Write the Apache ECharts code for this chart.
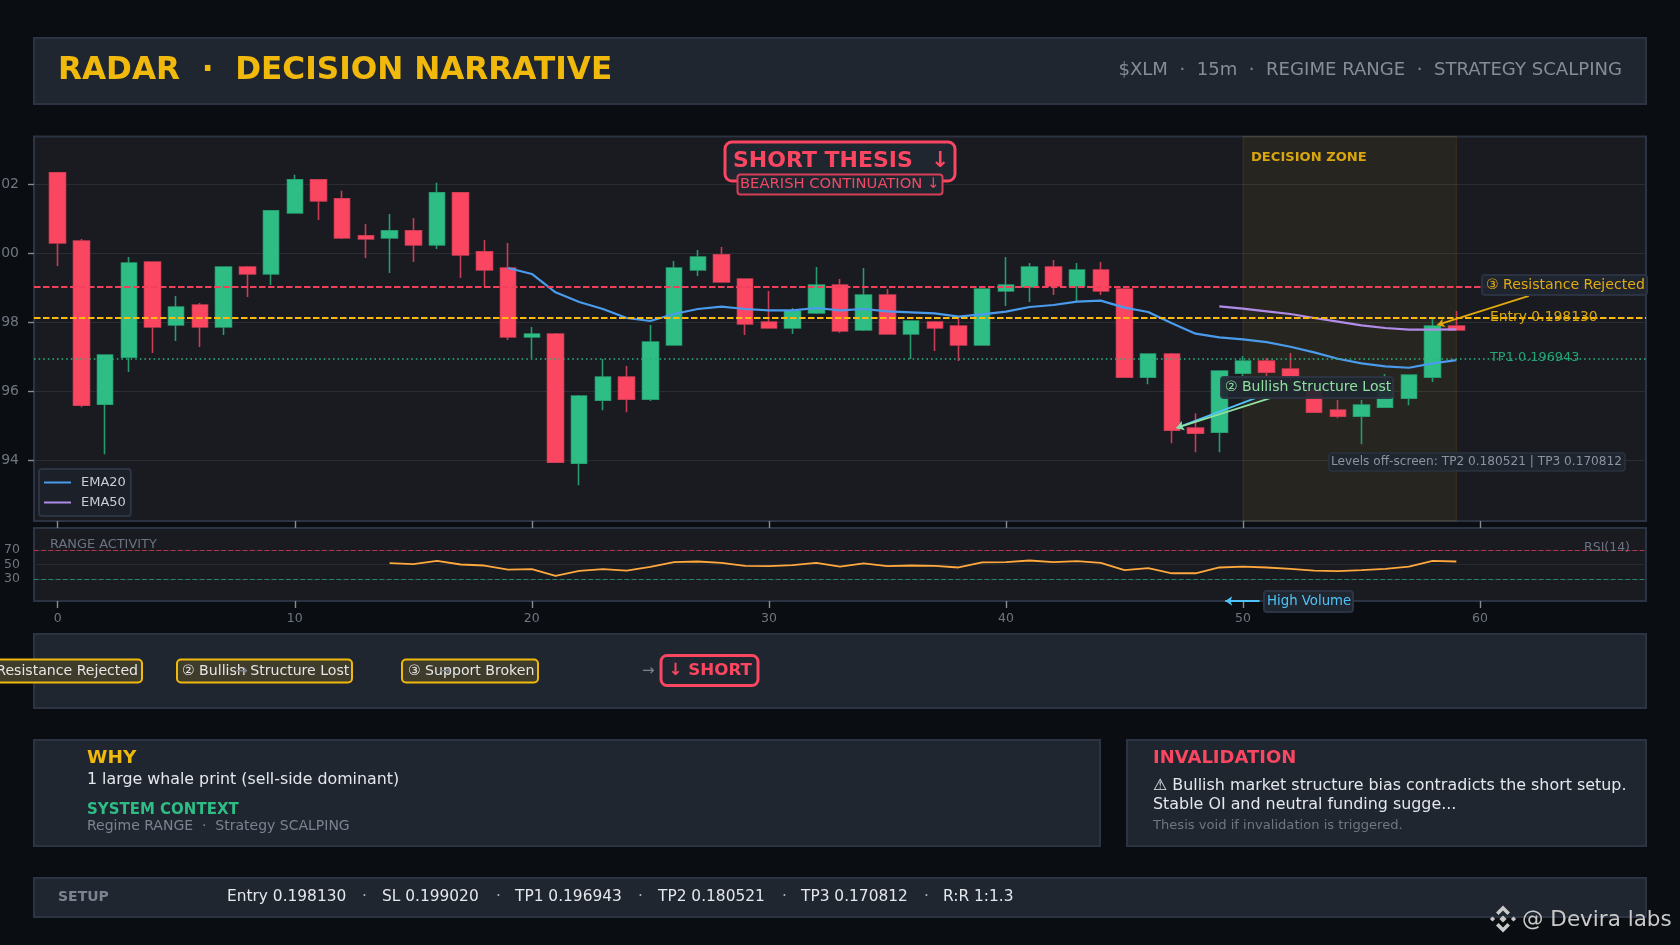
<!DOCTYPE html>
<html><head><meta charset="utf-8">
<style>html,body{margin:0;padding:0;background:#0a0d11;overflow:hidden}#c{width:1680px;height:945px}</style>
<script src="https://cdn.jsdelivr.net/npm/echarts@6/dist/echarts.min.js"></script>
</head><body><div id="c"></div>
<script>
const opens=[.202329,.200357,.195633,.196995,.199749,.197923,.198502,.197865,.199604,.199401,.201169,.202126,.201575,.200502,.200444,.200647,.200242,.201749,.200039,.199575,.197575,.197662,.193923,.195749,.196415,.195778,.197343,.199517,.199952,.199256,.19801,.197836,.198271,.199082,.197778,.198792,.197662,.19801,.197894,.197343,.198908,.199024,.199604,.199053,.199517,.198966,.196415,.197082,.194937,.194821,.196531,.196879,.196647,.196039,.195459,.195285,.195546,.195807,.196415,.197894];
const closes=[.2003,.195604,.197053,.19972,.197865,.198444,.197865,.199604,.199401,.201227,.202126,.201517,.200444,.200415,.200647,.200242,.201749,.199952,.199517,.197575,.197662,.193952,.195865,.196415,.195778,.19743,.199575,.199894,.199169,.197952,.197836,.198328,.199082,.197749,.198792,.197662,.198039,.197836,.197343,.198966,.199082,.199604,.199053,.199517,.198908,.196415,.197082,.194879,.194792,.196589,.196879,.19656,.196415,.195401,.195285,.195604,.196135,.196473,.197894,.197778];
const lows=[.199633,.195546,.194183,.19656,.197111,.197459,.197285,.197633,.198734,.199082,.201169,.200966,.200415,.199865,.19943,.199749,.200126,.199285,.199024,.197488,.196966,.193952,.193285,.195459,.195401,.19572,.197343,.199343,.199169,.197633,.197836,.197662,.198242,.197691,.197749,.197662,.196937,.197169,.196879,.197343,.198473,.198589,.198792,.198618,.198792,.196415,.196212,.194502,.194241,.194241,.196444,.196444,.196329,.195401,.195227,.194473,.195546,.195604,.19627,.197778];
const highs=[.202329,.200415,.197053,.199894,.199749,.198763,.19856,.199604,.199633,.201227,.202271,.202126,.201807,.20085,.20114,.201024,.202039,.201749,.200386,.2003,.197865,.197691,.195894,.196937,.196734,.197923,.199778,.200097,.200184,.199256,.198908,.198415,.199604,.199256,.199575,.198966,.198039,.198039,.198126,.198966,.199894,.19972,.199807,.19972,.199749,.198966,.197082,.197111,.195372,.196589,.197024,.196966,.197111,.196135,.195749,.195749,.196502,.196473,.198097,.198328];
const ema20Start=19;
const ema20=[.199575,.199401,.19887,.198589,.198387,.198126,.198039,.198242,.198387,.198454,.198387,.198348,.198348,.198415,.198348,.198387,.198319,.19829,.198261,.198164,.198232,.198309,.198444,.198502,.198599,.198628,.198425,.1983,.197971,.197672,.197565,.197507,.19743,.197295,.19713,.196947,.196812,.196725,.196686,.196812,.196908];
const ema50Start=49;
const ema50=[.198464,.198396,.198319,.198242,.198126,.19802,.197913,.197836,.197787,.197787,.197797];
const rsiStart=14;
const rsi=[51.8,50.5,55.1,50,48.6,43.1,43.6,34.4,41.3,43.6,41.7,46.8,53.2,54.1,52.3,48.2,47.7,49.1,52.3,47.2,51.4,47.7,48.6,48.2,45.9,52.8,53.2,55.5,53.2,54.6,52.3,42.2,44.9,38,38,45.9,47.2,45.9,44,41.7,40.8,42.2,44,47.2,55.1,54.1];
const xTicks=[0,10,20,30,40,50,60];
const yTicks=[.194,.196,.198,.2,.202];
const rsiTicks=[30,50,70];
const SL=.19902,ENTRY=.19813,TP1=.196943;
const zone=[50,59];

const F='"DejaVu Sans"';
const RED='#fb4661',GREEN='#2ebd85',YEL='#f0b90b',PANEL='#1f2630',EDGE='#2c3342',GREY='#7b8390';
const candle=opens.map((o,i)=>[i,o,closes[i],lows[i],highs[i]]);
const bodies=opens.map((o,i)=>[i,o,closes[i],Math.min(o,closes[i]),Math.max(o,closes[i])]);
const seq=(a,s)=>a.map((v,i)=>[i+s,v]);

const g=[];
function box(x,y,w,h,fill,stroke,lw,r,z,op){g.push({type:'rect',shape:{x,y,width:w,height:h,r:r||0},style:{fill,stroke,lineWidth:lw,opacity:op==null?1:op},z:z||0,silent:true});}
function txt(x,y,t,size,color,o){o=o||{};g.push({type:'text',x,y:y+1,style:{text:t,fontFamily:F,fontSize:size,fontWeight:o.bold?'bold':'normal',fill:color,align:o.align||'left',verticalAlign:'middle',opacity:o.op==null?1:o.op},z:o.z||50,silent:true});}
function poly(pts,fill,z){g.push({type:'polygon',shape:{points:pts},style:{fill},z,silent:true});}

// panels
box(34,38,1612,66,PANEL,EDGE,2);
box(34,634,1612,74,PANEL,EDGE,2);
box(34,740,1066,106,PANEL,EDGE,2);
box(1127,740,519,106,PANEL,EDGE,2);
box(34,878,1612,39,PANEL,EDGE,2);
// header
txt(58,70,'RADAR  ·  DECISION NARRATIVE',31.15,YEL,{bold:true});
txt(1622,69,'$XLM  ·  15m  ·  REGIME RANGE  ·  STRATEGY SCALPING',18.08,'#868d97',{align:'right'});
// thesis
box(725,142,230,39,PANEL,RED,3,7,60);
txt(733,160,'SHORT THESIS',22,RED,{bold:true,z:61});
txt(931,160,'↓',22,RED,{bold:true,z:61});
box(737.5,174.5,205,20,PANEL,'#d83f57',2,3,62);
txt(740,183,'BEARISH CONTINUATION ↓',14.75,'#f04a63',{z:63});
// zone / annotations
txt(1251,157,'DECISION ZONE',13.1,'#d9a610',{bold:true});
txt(1490,316,'Entry 0.198130',13.9,'#d9a610');
txt(1490,357,'TP1 0.196943',12.9,'#23a574');
box(1482,275,165,20,PANEL,'#2c3342',2,3,60,.95);
txt(1486,284,'③ Resistance Rejected',14.1,'#e2ac0f',{z:61});
box(1221,377,172,21,PANEL,'#2c3342',2,3,60,.92);
txt(1225,386,'② Bullish Structure Lost',14,'#8fe0a0',{z:61});
box(1329,453,296,18,PANEL,'#2c3342',1.5,3,60,.92);
txt(1331,461,'Levels off-screen: TP2 0.180521 | TP3 0.170812',12.15,'#8b93a0',{z:61});
box(1264,591,89,21,PANEL,'#2c3342',2,3,60);
txt(1267,601,'High Volume',13.3,'#4fc3f7',{z:61});
txt(50,544,'RANGE ACTIVITY',12.9,'#6c7380');
txt(1630,547,'RSI(14)',12.5,'#6c7380',{align:'right'});
// flow chips
const TAGF='#3f3c2c';
box(-30,659.5,172,23,TAGF,YEL,2,4,10);
txt(138,670,'① Resistance Rejected',14.1,'#e6e6e6',{align:'right'});
box(177,659.5,175,23,TAGF,YEL,2,4,10);
txt(182,670,'② Bullish Structure Lost',14.1,'#e6e6e6');
box(402,659.5,136,23,TAGF,YEL,2,4,10);
txt(408,670,'③ Support Broken',14.1,'#e6e6e6');
txt(236,670,'→',14,'#7b8390');
txt(439,670,'→',14,'#7b8390');
txt(642,670,'→',15,'#7b8390');
box(661,655.5,97,30,PANEL,RED,3,6,10);
txt(668.5,670,'↓ SHORT',16.7,RED,{bold:true});
// why
txt(87,757,'WHY',18.5,YEL,{bold:true});
txt(87,779,'1 large whale print (sell-side dominant)',15.84,'#e4e7eb');
txt(87,809,'SYSTEM CONTEXT',15,GREEN,{bold:true});
txt(87,825,'Regime RANGE  ·  Strategy SCALPING',14,GREY);
// invalidation
txt(1153,757,'INVALIDATION',18,RED,{bold:true});
txt(1153,785,'⚠ Bullish market structure bias contradicts the short setup.',15.9,'#e4e7eb');
txt(1153,804,'Stable OI and neutral funding sugge...',15.9,'#e4e7eb');
txt(1153,825,'Thesis void if invalidation is triggered.',13.1,'#6f7682');
// setup
txt(58,896,'SETUP',14,GREY,{bold:true});
const setup=[['Entry 0.198130',227],['·',362],['SL 0.199020',382],['·',496],['TP1 0.196943',515],['·',638],['TP2 0.180521',658],['·',782],['TP3 0.170812',801],['·',924],['R:R 1:1.3',943]];
setup.forEach(s=>txt(s[1],896,s[0],15.4,s[0]==='·'?'#aab0b8':'#e4e7eb'));
// watermark
const WM='#c9c9c9',cx=1503,cy=919;
function diamond(x,y,r){poly([[x,y-r],[x+r,y],[x,y+r],[x-r,y]],WM,70);}
diamond(cx,cy,3.6);diamond(cx-10.5,cy,2.6);diamond(cx+10.5,cy,2.6);
poly([[cx,cy-13.5],[cx+7,cy-6.5],[cx+4.4,cy-4],[cx,cy-8.4],[cx-4.4,cy-4],[cx-7,cy-6.5]],WM,70);
poly([[cx,cy+13.5],[cx+7,cy+6.5],[cx+4.4,cy+4],[cx,cy+8.4],[cx-4.4,cy+4],[cx-7,cy+6.5]],WM,70);
txt(1522,919,'@ Devira labs',21.5,WM,{z:70});

const ax=()=>({type:'value',min:-1,max:67,splitLine:{show:false},axisLine:{show:false,onZero:false},
  axisTick:{show:true,length:7,inside:false,customValues:xTicks,lineStyle:{color:'#868c96',width:1.4}}});
const ref=(v,c,t,w)=>({yAxis:v,lineStyle:{color:c,type:t,width:w}});
const arrow=(a,b,c)=>[{coord:a,symbol:'none',lineStyle:{color:c,type:'solid',width:1.8}},{coord:b,symbol:'arrow',symbolSize:7,lineStyle:{color:c,type:'solid',width:1.8}}];

const option={
 animation:false,backgroundColor:'#0a0d11',graphic:{elements:g},
 grid:[{left:34,right:34,top:136.5,height:384.5,show:true,outerBoundsMode:'none',containLabel:false,backgroundColor:'#191b21',borderColor:EDGE,borderWidth:2},
       {left:34,right:34,top:528,height:73,show:true,outerBoundsMode:'none',containLabel:false,backgroundColor:'#191b21',borderColor:EDGE,borderWidth:2}],
 xAxis:[Object.assign(ax(),{gridIndex:0,axisLabel:{show:false,customValues:xTicks}}),
        Object.assign(ax(),{gridIndex:1,axisLabel:{show:true,customValues:xTicks,color:'#6f7682',fontFamily:F,fontSize:12.5,margin:11}})],
 yAxis:[{type:'value',gridIndex:0,min:.19225,max:.20338,axisLine:{show:false,onZero:false},
         axisTick:{show:true,length:6,customValues:yTicks,lineStyle:{color:'#868c96',width:1.4}},
         axisLabel:{customValues:yTicks,color:'#6f7682',fontFamily:F,fontSize:14,margin:15,formatter:v=>v.toFixed(3)},
         splitLine:{show:true,lineStyle:{color:'#2a2d33',width:1}}},
        {type:'value',gridIndex:1,min:0,max:100,axisLine:{show:false,onZero:false},
         axisTick:{show:false,customValues:rsiTicks},
         axisLabel:{customValues:rsiTicks,color:'#6f7682',fontFamily:F,fontSize:12.5,margin:14,padding:[4,0,0,0]},
         splitLine:{show:true,lineStyle:{color:'#26292f',width:1}}}],
 legend:{left:39,top:469,orient:'vertical',data:['EMA20','EMA50'],icon:'rect',itemWidth:27,itemHeight:2,itemGap:7,padding:[7,5,7,5],
   backgroundColor:'#1b2029',borderColor:'#2c3342',borderWidth:2,borderRadius:3,selectedMode:false,
   textStyle:{color:'#c9ced6',fontFamily:F,fontSize:13,padding:[0,0,0,5]},z:20},
 series:[
  {name:'Wicks',type:'candlestick',xAxisIndex:0,yAxisIndex:0,barWidth:16,data:candle,z:2,silent:true,
   itemStyle:{color:GREEN,color0:RED,borderColor:'#279a6e',borderColor0:'#c83d54',borderWidth:1.6},
   markArea:{silent:true,data:[[{xAxis:zone[0]},{xAxis:zone[1]}]],itemStyle:{color:'rgba(240,185,11,0.065)',borderColor:'rgba(240,185,11,0.12)',borderWidth:1}}},
  {name:'Price',type:'candlestick',xAxisIndex:0,yAxisIndex:0,barWidth:16,data:bodies,z:3,silent:true,
   itemStyle:{color:GREEN,color0:RED,borderColor:GREEN,borderColor0:RED,borderWidth:0}},
  {name:'EMA20',type:'line',xAxisIndex:0,yAxisIndex:0,data:seq(ema20,ema20Start),showSymbol:false,z:4,lineStyle:{color:'#4a9bec',width:2.2},itemStyle:{color:'#4a9bec'},
   markLine:{silent:true,precision:6,symbol:['none','none'],label:{show:false},data:[
     ref(SL,'#f0405c',[6.5,2.5],2),ref(ENTRY,'#fdb90b',[6.5,2.5],2),ref(TP1,'#2ab27d',[1.6,3],1.6),
     arrow([62.06,.198764],[58.2,.197925],'#e0a80d'),
     arrow([50.55,.195812],[47.2,.194944],'#4fc3f7'),
     arrow([51.18,.195812],[47.2,.194944],'#8fe0a0')]}},
  {name:'EMA50',type:'line',xAxisIndex:0,yAxisIndex:0,data:seq(ema50,ema50Start),showSymbol:false,z:4,lineStyle:{color:'#b08ce8',width:2.2},itemStyle:{color:'#b08ce8'}},
  {name:'RSI',type:'line',xAxisIndex:1,yAxisIndex:1,data:seq(rsi,rsiStart),showSymbol:false,z:4,lineStyle:{color:'#ffa83d',width:1.8},itemStyle:{color:'#ffa83d'},
   markLine:{silent:true,precision:2,symbol:['none','none'],label:{show:false},data:[
     {yAxis:70,lineStyle:{color:'#b8324a',type:'dashed',width:1.2}},{yAxis:30,lineStyle:{color:'#23876a',type:'dashed',width:1.2}},
     [{coord:[50.7,0],symbol:'none',lineStyle:{color:'#4fc3f7',type:'solid',width:2}},{coord:[49.25,0],symbol:'arrow',symbolSize:7,lineStyle:{color:'#4fc3f7',type:'solid',width:2}}]]}}
 ]};
const chart=echarts.init(document.getElementById('c'),null,{renderer:'canvas',width:1680,height:945});
chart.setOption(option);
</script></body></html>
